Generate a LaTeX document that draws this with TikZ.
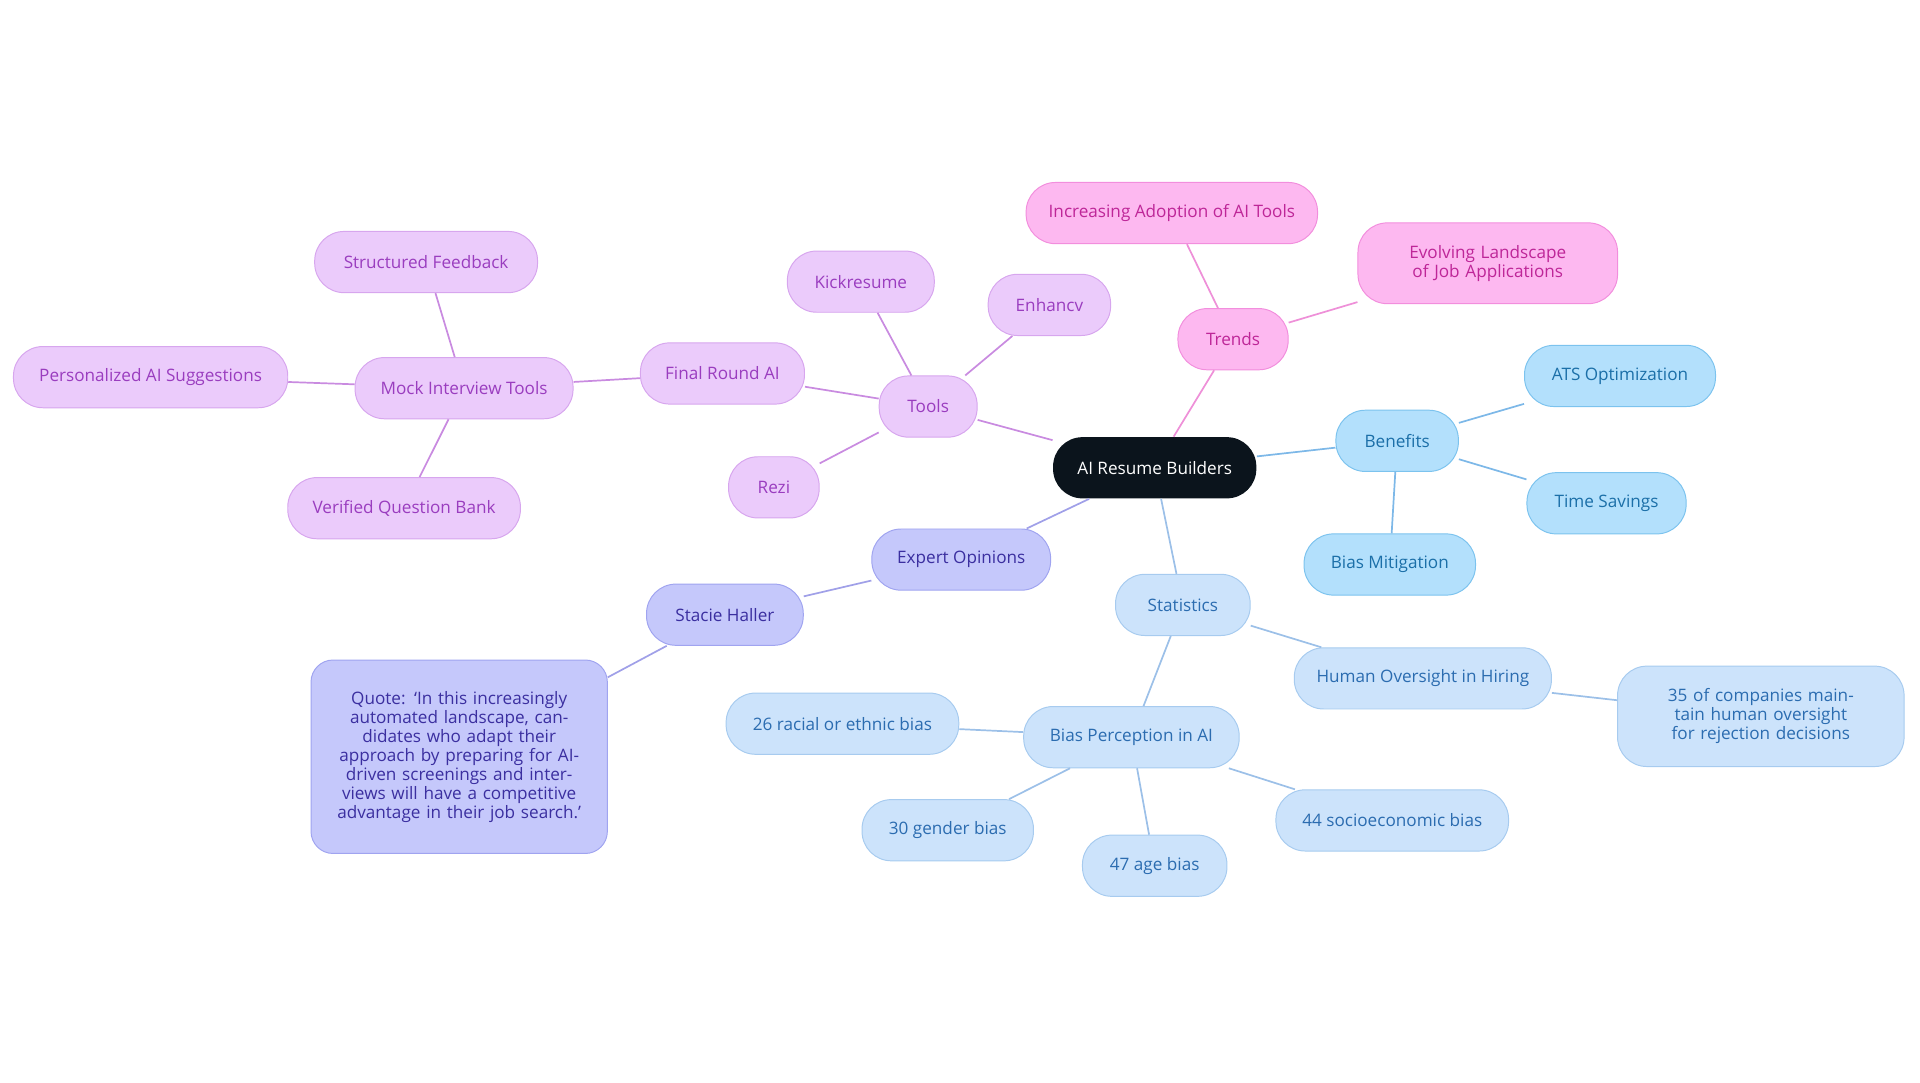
\documentclass[tikz,border=0pt]{standalone}
\usepackage{fontspec}
\setmainfont{Open Sans}
\definecolor{pF}{HTML}{EBCBFB}\definecolor{pD}{HTML}{D7A6EE}\definecolor{pT}{HTML}{9A3DBF}\definecolor{pE}{HTML}{C98BE0}
\definecolor{kF}{HTML}{FDB8F0}\definecolor{kD}{HTML}{F28EDD}\definecolor{kT}{HTML}{BE2698}\definecolor{kE}{HTML}{EE90D8}
\definecolor{bF}{HTML}{B3E0FC}\definecolor{bD}{HTML}{7CC3EE}\definecolor{bT}{HTML}{1B6FA8}\definecolor{bE}{HTML}{7DB8E8}
\definecolor{sF}{HTML}{CCE3FB}\definecolor{sD}{HTML}{A7CBEF}\definecolor{sT}{HTML}{2B6CB0}\definecolor{sE}{HTML}{9CC0E8}
\definecolor{eF}{HTML}{C5C8FB}\definecolor{eD}{HTML}{A0A4F0}\definecolor{eT}{HTML}{3B2FA0}\definecolor{eE}{HTML}{A0A0E8}
\definecolor{rF}{HTML}{0B141C}
\tikzset{
 base/.style={rounded corners=24pt,inner sep=0pt,minimum height=50pt,align=center,font=\fontsize{14}{15.5}\selectfont,line width=0.8pt},
 pn/.style={base,fill=pF,draw=pD,text=pT},
 kn/.style={base,fill=kF,draw=kD,text=kT},
 bn/.style={base,fill=bF,draw=bD,text=bT},
 sn/.style={base,fill=sF,draw=sD,text=sT},
 en/.style={base,fill=eF,draw=eD,text=eT},
 pe/.style={draw=pE,line width=1.4pt},
 ke/.style={draw=kE,line width=1.4pt},
 be/.style={draw=bE,line width=1.4pt},
 se/.style={draw=sE,line width=1.4pt},
 ee/.style={draw=eE,line width=1.4pt},
}
\begin{document}
\begin{tikzpicture}[x=1pt,y=-1pt]
\useasboundingbox (0,0) rectangle (1568,884);
\node[base,fill=rF,text=white,minimum width=166pt] (root) at (943,382) {AI Resume Builders};
\node[pn,minimum width=80pt] (tools) at (758,332) {Tools};
\node[pn,minimum width=120pt] (kick) at (703,230) {Kickresume};
\node[pn,minimum width=100pt] (enh) at (857,249) {Enhancv};
\node[pn,minimum width=74pt] (rezi) at (632,398) {Rezi};
\node[pn,minimum width=134pt] (final) at (590,305) {Final Round AI};
\node[pn,minimum width=178pt] (mock) at (379,317) {Mock Interview Tools};
\node[pn,minimum width=182pt] (struct) at (348,214) {Structured Feedback};
\node[pn,minimum width=224pt] (pers) at (123,308) {Personalized AI Suggestions};
\node[pn,minimum width=190pt] (verif) at (330,415) {Verified Question Bank};
\node[kn,minimum width=90pt] (trends) at (1007,277) {Trends};
\node[kn,minimum width=238pt] (incr) at (957,174) {Increasing Adoption of AI Tools};
\node[kn,minimum width=212pt,minimum height=66pt,text width=190pt] (evol) at (1215,215) {Evolving Landscape of Job Applications};
\node[bn,minimum width=100pt] (ben) at (1141,360) {Benefits};
\node[bn,minimum width=156pt] (ats) at (1323,307) {ATS Optimization};
\node[bn,minimum width=130pt] (time) at (1312,411) {Time Savings};
\node[bn,minimum width=140pt] (biasm) at (1135,461) {Bias Mitigation};
\node[sn,minimum width=110pt] (stat) at (966,494) {Statistics};
\node[sn,minimum width=210pt] (human) at (1162,554) {Human Oversight in Hiring};
\node[sn,minimum width=234pt,minimum height=82pt,text width=200pt] (c35) at (1438,585) {35 of companies maintain human oversight for rejection decisions};
\node[sn,minimum width=176pt] (bp) at (924,602) {Bias Perception in AI};
\node[sn,minimum width=190pt] (r26) at (688,591) {26 racial or ethnic bias};
\node[sn,minimum width=140pt] (g30) at (774,678) {30 gender bias};
\node[sn,minimum width=118pt] (a47) at (943,707) {47 age bias};
\node[sn,minimum width=190pt] (s44) at (1137,670) {44 socioeconomic bias};
\node[en,minimum width=146pt] (exp) at (785,457) {Expert Opinions};
\node[en,minimum width=128pt] (stacie) at (592,502) {Stacie Haller};
\node[en,rounded corners=18pt,minimum width=242pt,minimum height=158pt,text width=200pt] (quote) at (375,618) {Quote: `In this increasingly automated landscape, candidates who adapt their approach by preparing for AI-driven screenings and interviews will have a competitive advantage in their job search.'};
\draw[pe] (root) -- (tools);
\draw[pe] (tools) -- (kick);
\draw[pe] (tools) -- (enh);
\draw[pe] (tools) -- (rezi);
\draw[pe] (tools) -- (final);
\draw[pe] (final) -- (mock);
\draw[pe] (mock) -- (struct);
\draw[pe] (mock) -- (pers);
\draw[pe] (mock) -- (verif);
\draw[ke] (root) -- (trends);
\draw[ke] (trends) -- (incr);
\draw[ke] (trends) -- (evol);
\draw[be] (root) -- (ben);
\draw[be] (ben) -- (ats);
\draw[be] (ben) -- (time);
\draw[be] (ben) -- (biasm);
\draw[se] (root) -- (stat);
\draw[se] (stat) -- (human);
\draw[se] (human) -- (c35);
\draw[se] (stat) -- (bp);
\draw[se] (bp) -- (r26);
\draw[se] (bp) -- (g30);
\draw[se] (bp) -- (a47);
\draw[se] (bp) -- (s44);
\draw[ee] (root) -- (exp);
\draw[ee] (exp) -- (stacie);
\draw[ee] (stacie) -- (quote);
\end{tikzpicture}
\end{document}
